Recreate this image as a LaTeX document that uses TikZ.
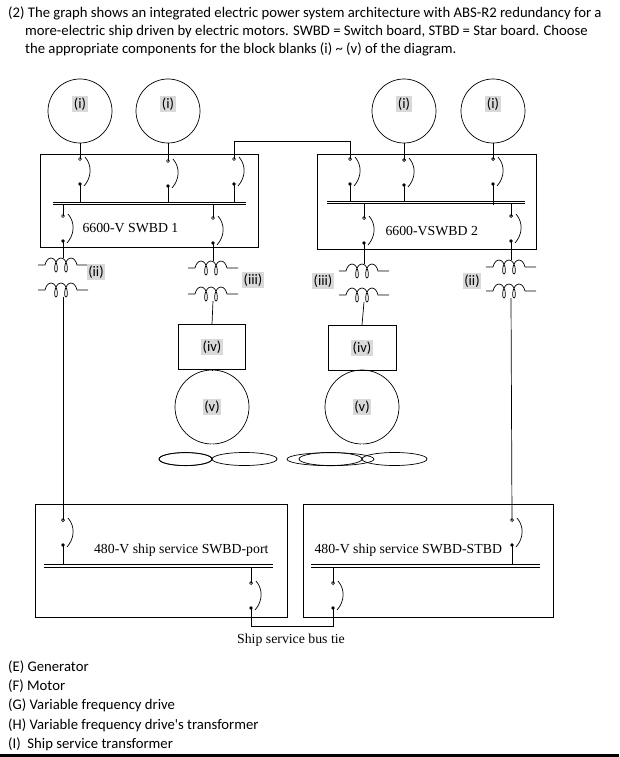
\documentclass[tikz,border=0pt]{standalone}
\usepackage{fontspec}
\setmainfont{Liberation Serif}
\newfontfamily\lblfont{Carlito}
\usetikzlibrary{decorations.pathmorphing,calc}
\begin{document}
\begin{tikzpicture}[x=1pt,y=-1pt,
  wire/.style={line width=0.7pt},
  box/.style={draw,line width=0.7pt},
  bus/.style={double,double distance=1.6pt,line width=0.9pt},
  mach/.style={draw,circle,line width=0.7pt,minimum size=#1},
  blank/.style={fill=gray!30,inner sep=1.5pt,font=\lblfont\fontsize{14.5}{16}\selectfont},
  sw/.style={font=\fontsize{13.8}{16}\selectfont},
  hdr/.style={anchor=base west,inner sep=0pt,font=\lblfont\fontsize{14.7}{17}\selectfont},
  coil/.style={wire,decorate,decoration={coil,aspect=0.5,segment length=10pt,amplitude=7pt,pre length=7pt,post length=7pt}},
  brk/.pic={
    \draw[wire,fill=white] (0,0) circle (1.5);
    \fill (0,25) circle (1.9);
    \draw[wire] (5,-2) .. controls (12,6) and (12,18) .. (4,27);
    \coordinate (-o) at (0,0); \coordinate (-c) at (0,25);}
]
\useasboundingbox (0,0) rectangle (619,757);
% header
\node[hdr] at (8,18) {(2) The graph shows an integrated electric power system architecture with ABS-R2 redundancy for a};
\node[hdr] at (25,36) {more-electric ship driven by electric motors. SWBD = Switch board, STBD = Star board. Choose};
\node[hdr] at (25,54) {the appropriate components for the block blanks (i) \textasciitilde{} (v) of the diagram.};
% generators
\node[mach=64pt] (g1) at (80,111) {}; \node[blank] at (80,104) {(i)};
\node[mach=64pt] (g2) at (168,111) {}; \node[blank] at (168,104) {(i)};
\node[mach=64pt] (g3) at (404,111) {}; \node[blank] at (404,104) {(i)};
\node[mach=64pt] (g4) at (493,111) {}; \node[blank] at (493,104) {(i)};
% 6600-V switchboards
\draw[box] (40,154) rectangle (258,247);
\draw[box] (317,154) rectangle (536,249);
\draw[bus] (53,203.5) -- (246,203.5);
\draw[bus] (327,202.5) -- (525,202.5);
\node[sw,anchor=west] at (79,228) {6600-V SWBD 1};
\node[sw,anchor=west] at (382,231) {6600-VSWBD 2};
\pic (a1) at (80,159) {brk}; \pic (a2) at (168,161) {brk}; \pic (a3) at (234,159) {brk};
\pic (b1) at (350,159) {brk}; \pic (b2) at (404,160) {brk}; \pic (b3) at (493,159) {brk};
\pic (l1) at (63,216) {brk}; \pic (l2) at (213,218) {brk};
\pic (r1) at (364,218) {brk}; \pic (r2) at (511,216) {brk};
\draw[wire] (g1.south) -- (a1-o); \draw[wire] (a1-c) -- (80,202);
\draw[wire] (g2.south) -- (a2-o); \draw[wire] (a2-c) -- (168,202);
\draw[wire] (a3-c) -- (234,202);
\draw[wire] (a3-o) |- (350,141) -- (b1-o);
\draw[wire] (b1-c) -- (350,201); \draw[wire] (g3.south) -- (b2-o); \draw[wire] (b2-c) -- (404,201);
\draw[wire] (g4.south) -- (b3-o); \draw[wire] (b3-c) -- (493,205);
\draw[wire] (63,205) -- (l1-o); \draw[wire] (213,205) -- (l2-o);
\draw[wire] (364,204) -- (r1-o); \draw[wire] (511,204) -- (r2-o);
% transformers
\foreach \n/\x/\ya/\yb in {t1/63/263/288, t2/213/266/292, t3/364/269/293, t4/511/265/289}{
  \draw[coil] (\x-25,\ya+2) -- (\x+25,\ya+2);
  \draw[coil] (\x-25,\yb+2) -- (\x+25,\yb+2);
  \coordinate (\n a) at (\x,\ya-5); \coordinate (\n b) at (\x,\yb+9);
}
\node[blank] at (96,272) {(ii)};
\node[blank] at (253,280) {(iii)};
\node[blank] at (323,281) {(iii)};
\node[blank] at (472,281) {(ii)};
\draw[wire] (l1-c) -- (t1a); \draw[wire] (l2-c) -- (t2a);
\draw[wire] (r1-c) -- (t3a); \draw[wire] (r2-c) -- (t4a);
% drives and motors
\node[box,minimum width=67pt,minimum height=45pt] (d1) at (212,347) {};
\node[blank] at (d1) {(iv)};
\node[box,minimum width=68pt,minimum height=45pt] (d2) at (362,348) {};
\node[blank] at (d2) {(iv)};
\node[mach=74pt] (m1) at (212,407) {}; \node[blank] at (m1) {(v)};
\node[mach=74pt] (m2) at (362,407) {}; \node[blank] at (m2) {(v)};
\draw[wire] (t2b) -- (d1.north); \draw[wire] (d1.south) -- (m1.north);
\draw[wire] (t3b) -- (d2.north); \draw[wire] (d2.south) -- (m2.north);
\foreach \m/\l/\r in {m1/159/277, m2/299/427}{
  \draw[wire,double,double distance=1.5pt] (\m.south) -- ++(0,15);
  \coordinate (h\m) at ($(\m.south)+(0,15)$);
  \draw[wire] ($(h\m)!0.5!(\l,459)$) ellipse ({(212-\l)/2+0.5*(\l-159)*0} and 6.5);
}
\draw[wire] (185.5,459) ellipse (26.5 and 6.5);
\draw[wire] (244.5,459) ellipse (32.5 and 6.5);
\draw[wire] (330.5,459) ellipse (31.5 and 6.5);
\draw[wire] (394.5,459) ellipse (32.5 and 6.5);
% 480-V switchboards
\draw[box] (35,504) rectangle (287,617);
\draw[box] (303,504) rectangle (553,617);
\draw[bus] (44,566) -- (273,566);
\draw[bus] (311,566) -- (540,566);
\node[sw,anchor=base east] at (272,553) {480-V ship service SWBD-port};
\node[sw,anchor=base west] at (311,553) {480-V ship service SWBD-STBD};
\pic (p1) at (63,520) {brk}; \pic (p2) at (251,583) {brk};
\pic (s1) at (512,520) {brk}; \pic (s2) at (333,583) {brk};
\draw[wire] (t1b) -- (p1-o); \draw[wire] (p1-c) -- (63,565);
\draw[wire] (t4b) -- (s1-o); \draw[wire] (s1-c) -- (512,565);
\draw[wire] (251,567) -- (p2-o); \draw[wire] (333,567) -- (s2-o);
\draw[wire] (p2-c) |- (333,626) -- (s2-c);
\node[sw] at (291,640) {Ship service bus tie};
% options
\foreach \t [count=\i] in {(E) Generator,(F) Motor,(G) Variable frequency drive,(H) Variable frequency drive's transformer,(I)\ \ Ship service transformer}
  \node[hdr] at (8,652+19.3*\i) {\t};
\fill (0,754) rectangle (619,757);
\end{tikzpicture}
\end{document}
